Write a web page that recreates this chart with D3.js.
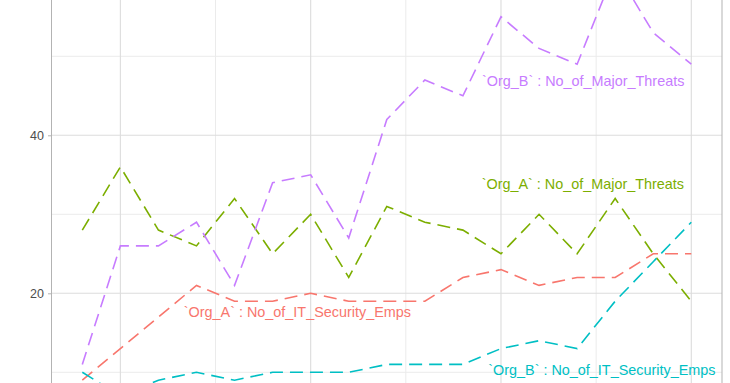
<!DOCTYPE html>
<html>
<head>
<meta charset="utf-8">
<script src="https://cdn.jsdelivr.net/npm/d3@7"></script>
<style>
  html, body { margin: 0; padding: 0; background: #ffffff; }
  svg { display: block; }
</style>
</head>
<body>
<svg id="chart" width="730" height="383"></svg>
<script>
// ---- data ----
const years = [1999, 2000, 2001, 2002, 2003, 2004, 2005, 2006, 2007, 2008, 2009, 2010, 2011, 2012, 2013, 2014, 2015];
const orgA_IT_Security_Emps = [9, 13, 17, 21, 19, 19, 20, 19, 19, 19, 22, 23, 21, 22, 22, 25, 25];
const orgA_Major_Threats    = [28, 36, 28, 26, 32, 25, 30, 22, 31, 29, 28, 25, 30, 25, 32, 25, 19];
const orgB_IT_Security_Emps = [10, 7, 9, 10, 9, 10, 10, 10, 11, 11, 11, 13, 14, 13, 19, 24, 29];
const orgB_Major_Threats    = [11, 26, 26, 29, 21, 34, 35, 27, 42, 47, 45, 55, 51, 49, 61, 53, 49];
const seriesNames = [
  "`Org_A` : No_of_IT_Security_Emps",
  "`Org_A` : No_of_Major_Threats",
  "`Org_B` : No_of_IT_Security_Emps",
  "`Org_B` : No_of_Major_Threats"
];
const seriesColors = ["#F8766D", "#7CAE00", "#00BFC4", "#C77CFF"];
// label anchors (data units: year, value)
const labelYears  = [2004.65, 2012.15, 2012.65, 2012.16];
const labelValues = [17.68, 33.82, 10.28, 46.86];
const yLabelTicks = [20, 40];
const yMajorTicks = [20, 40, 60];
const yMinorTicks = [10, 30, 50];
const xMajorTicks = [2000, 2005, 2010, 2015];
const xMinorTicks = [2002.5, 2007.5, 2012.5];

// ---- layout ----
const W = 730, H = 383;
const panelLeft = 51.5, panelRight = 722;
const svg = d3.select("#chart");

const x = d3.scaleLinear().domain([1999, 2015]).range([82.3, 691.3]);
const y = d3.scaleLinear().domain([20, 40]).range([293.3, 135.3]);

svg.append("defs").append("clipPath").attr("id", "panel")
  .append("rect").attr("x", panelLeft).attr("y", -50).attr("width", panelRight - panelLeft).attr("height", H + 100);

const grid = svg.append("g");
grid.selectAll("line.hmin").data(yMinorTicks).join("line")
  .attr("x1", panelLeft).attr("x2", panelRight)
  .attr("y1", d => y(d)).attr("y2", d => y(d))
  .attr("stroke", "#ebebeb").attr("stroke-width", 1);
grid.selectAll("line.vmin").data(xMinorTicks).join("line")
  .attr("x1", d => x(d)).attr("x2", d => x(d))
  .attr("y1", 0).attr("y2", H)
  .attr("stroke", "#ebebeb").attr("stroke-width", 1);
grid.selectAll("line.hmaj").data(yMajorTicks).join("line")
  .attr("x1", panelLeft).attr("x2", panelRight)
  .attr("y1", d => y(d)).attr("y2", d => y(d))
  .attr("stroke", "#dcdcdc").attr("stroke-width", 1.1);
grid.selectAll("line.vmaj").data(xMajorTicks).join("line")
  .attr("x1", d => x(d)).attr("x2", d => x(d))
  .attr("y1", 0).attr("y2", H)
  .attr("stroke", "#dcdcdc").attr("stroke-width", 1.1);

svg.append("line").attr("x1", panelLeft).attr("x2", panelLeft).attr("y1", 0).attr("y2", H)
  .attr("stroke", "#b3b3b3").attr("stroke-width", 1);
svg.append("line").attr("x1", panelRight).attr("x2", panelRight).attr("y1", 0).attr("y2", H)
  .attr("stroke", "#b3b3b3").attr("stroke-width", 1);

const yAxis = d3.axisLeft(y).tickValues(yLabelTicks).tickSize(3.5).tickPadding(4).tickFormat(d3.format("d"));
const gy = svg.append("g").attr("transform", `translate(${panelLeft},0)`).call(yAxis);
gy.select(".domain").remove();
gy.selectAll(".tick line").attr("stroke", "#b3b3b3");
gy.selectAll(".tick text").attr("fill", "#4d4d4d")
  .style("font-family", "'Liberation Sans', Arial, sans-serif").style("font-size", "12.5px");

const seriesData = [orgA_IT_Security_Emps, orgA_Major_Threats, orgB_IT_Security_Emps, orgB_Major_Threats];
const line = d3.line().x((d, i) => x(years[i])).y(d => y(d));
const lines = svg.append("g").attr("clip-path", "url(#panel)");
lines.selectAll("path").data(seriesData).join("path")
  .attr("d", d => line(d))
  .attr("fill", "none")
  .attr("stroke", (d, i) => seriesColors[i])
  .attr("stroke-width", 1.6)
  .attr("stroke-dasharray", "13,7");

svg.append("g").selectAll("text").data(seriesNames).join("text")
  .attr("x", (d, i) => x(labelYears[i]))
  .attr("y", (d, i) => y(labelValues[i]))
  .attr("dy", "0.35em")
  .attr("text-anchor", "middle")
  .attr("fill", (d, i) => seriesColors[i])
  .style("font-family", "'Liberation Sans', Arial, sans-serif")
  .style("font-size", "14.4px")
  .text(d => d);
</script>
</body>
</html>
